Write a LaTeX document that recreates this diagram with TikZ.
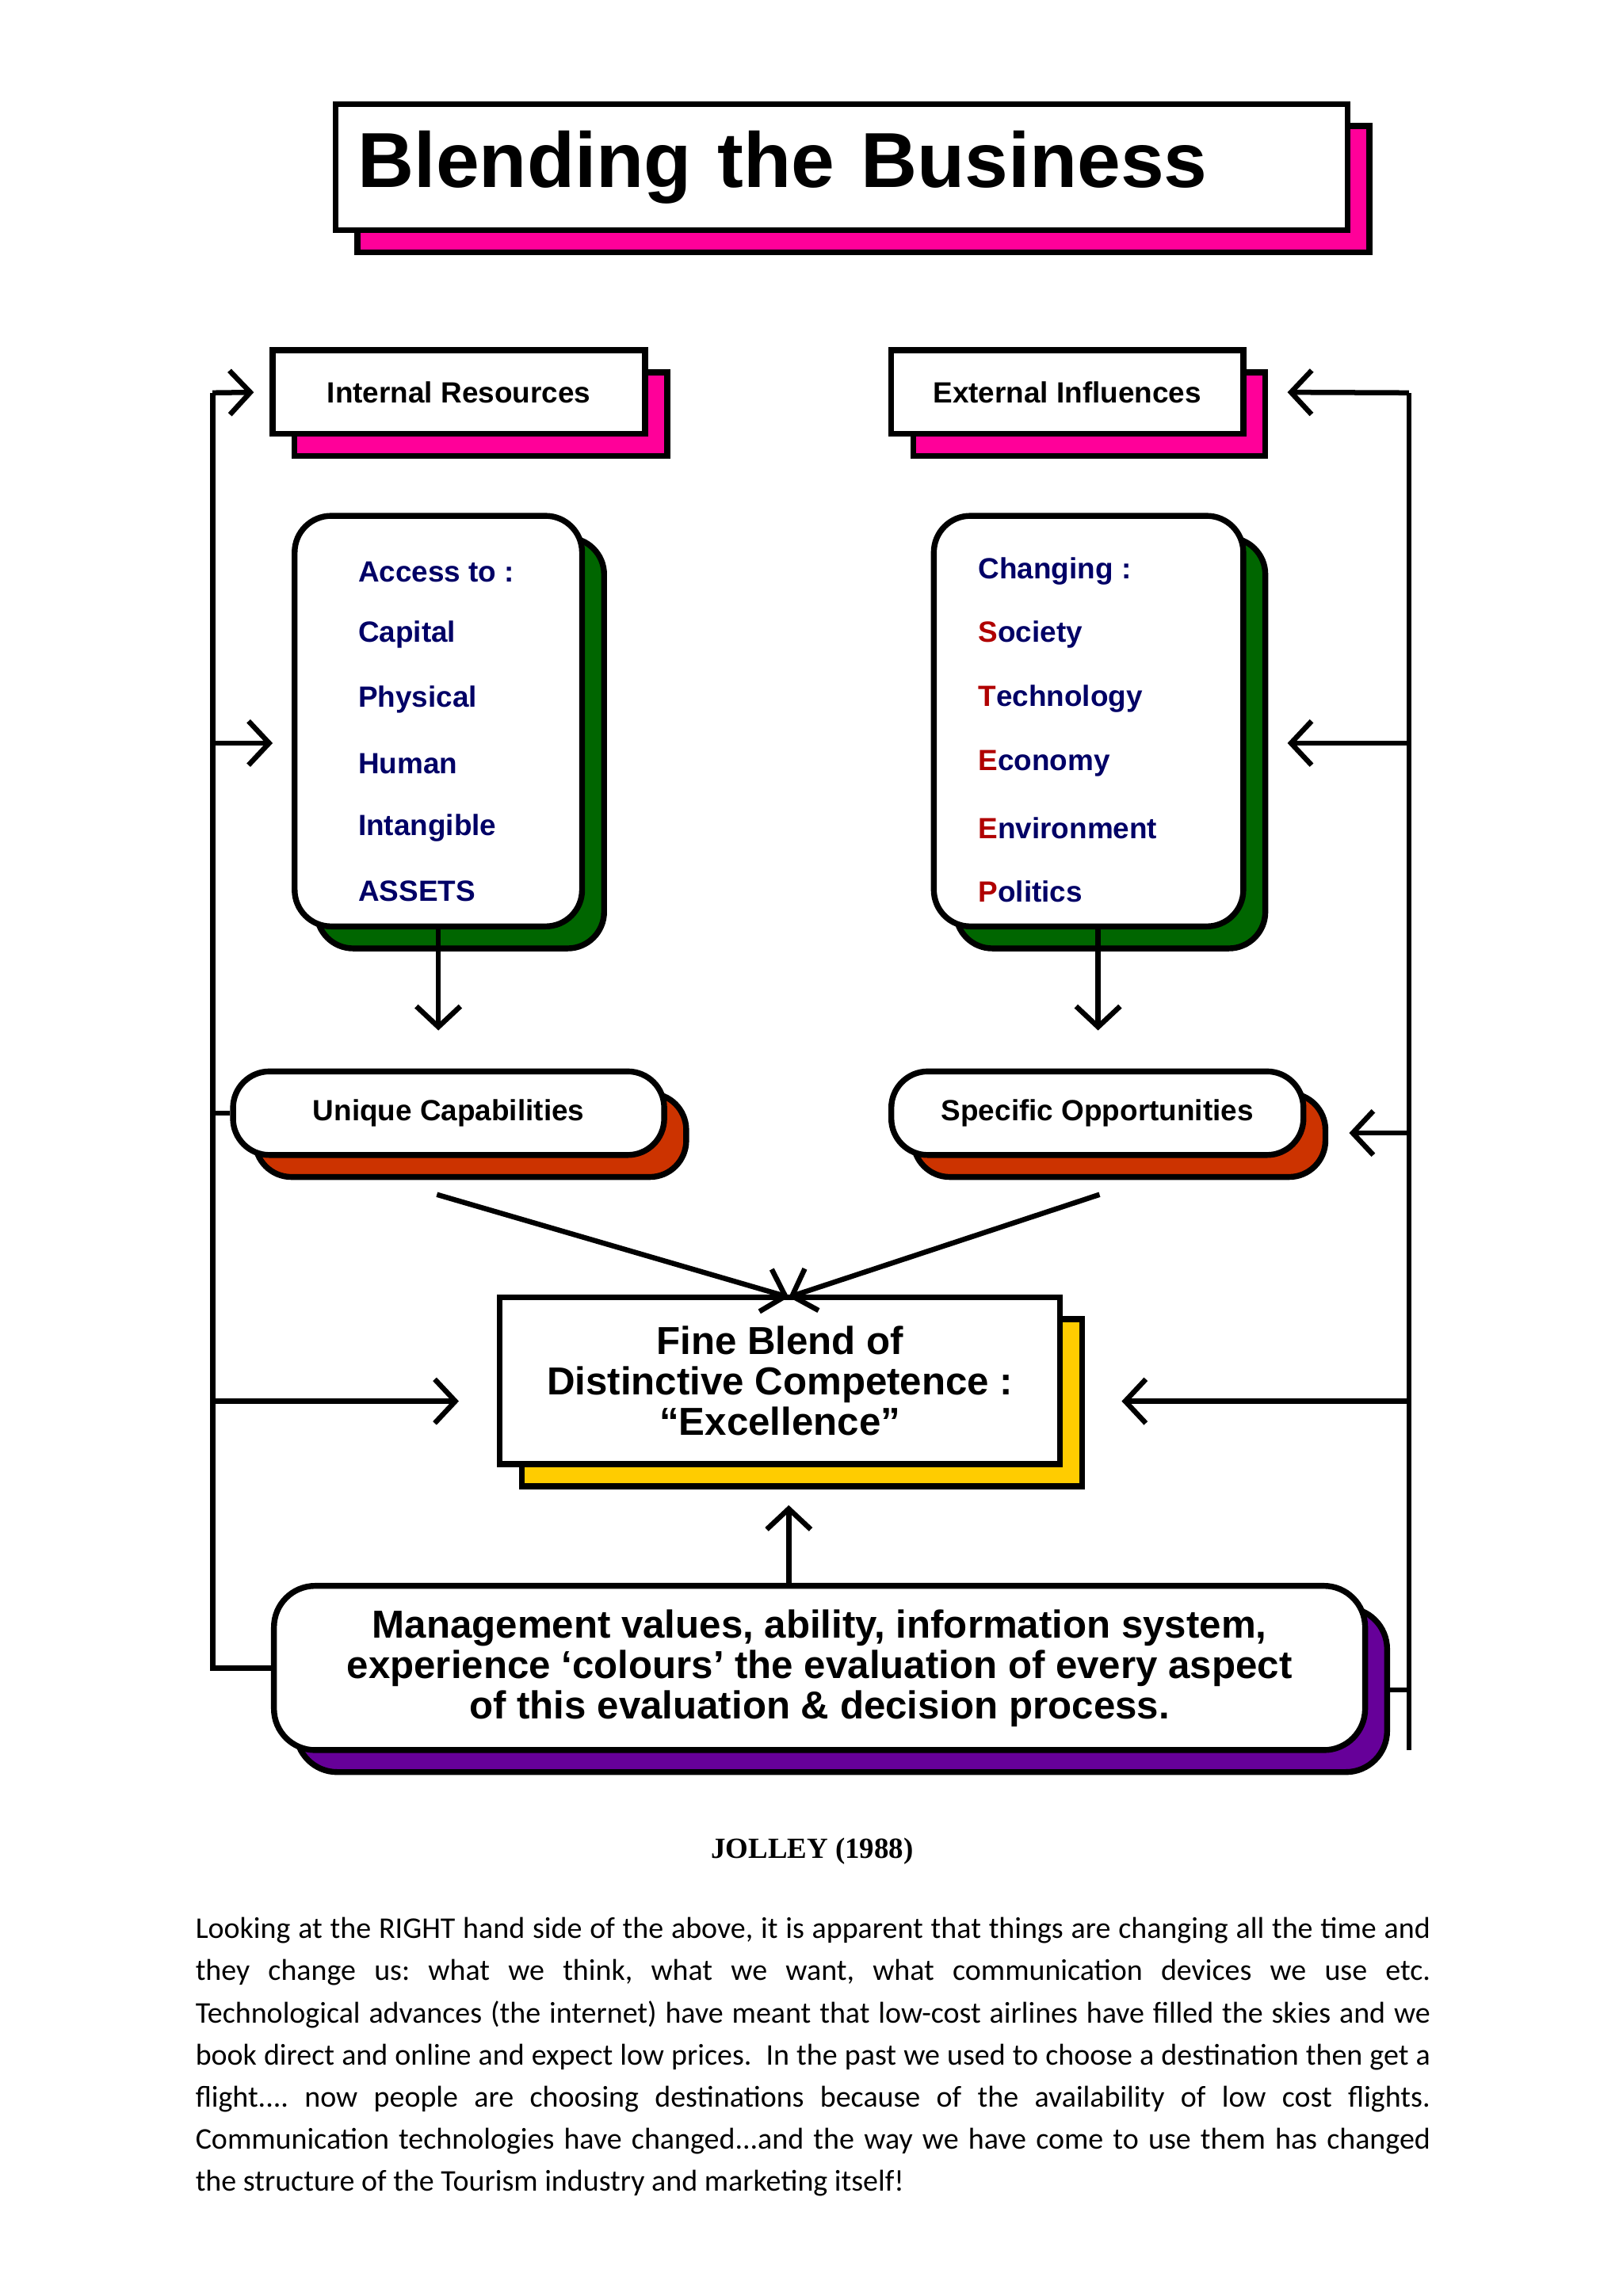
\documentclass[tikz,border=0pt]{standalone}
\usepackage{fontspec}
\setmainfont{Liberation Sans}
\newfontfamily\capfont{Liberation Serif}
\newfontfamily\bodyfont{Carlito}
\usetikzlibrary{arrows.meta,shadows}
\definecolor{pinkc}{HTML}{FF0099}
\definecolor{greenc}{HTML}{006600}
\definecolor{orangec}{HTML}{CC3300}
\definecolor{yellowc}{HTML}{FFCC00}
\definecolor{purplec}{HTML}{660099}
\definecolor{navyc}{HTML}{000066}
\definecolor{redc}{HTML}{B00000}
\frenchspacing
\begin{document}
\begin{tikzpicture}[x=0.0185cm,y=-0.0185cm,
  box/.style={draw, fill=white, line width=0.074cm, inner sep=0pt,
    minimum width=#1},
  sh/.style={general shadow={fill=#1, draw=black, line width=0.074cm,
    shadow xshift=0.2775cm, shadow yshift=-0.2775cm}},
  lbl/.style={font=\bfseries\fontsize{10.5}{12}\selectfont},
  item/.style={anchor=west, inner sep=0pt, text=navyc, font=\bfseries\fontsize{10.5}{12}\selectfont},
  big/.style={font=\bfseries\fontsize{14}{14.5}\selectfont, align=center},
  line/.style={line width=0.065cm},
  arr/.style={line width=0.065cm, -{Straight Barb[length=0.26cm,width=0.555cm,line width=0.065cm]}}
  ]
\useasboundingbox (0,0) rectangle (1107,1566.5);

% title and headings
\node[box=12.765cm, minimum height=1.591cm, sh=pinkc, text width=12.2cm, align=left,
  font=\bfseries\fontsize{28}{30}\selectfont] (title) at (574,114) {Blending the Business};
\node[box=4.699cm, minimum height=1.0545cm, sh=pinkc, lbl] (intres) at (313,267.5) {Internal Resources};
\node[box=4.44cm, minimum height=1.0545cm, sh=pinkc, lbl] (extinf) at (728,267.5) {External Influences};

% lists
\node[box=3.626cm, minimum height=5.18cm, rounded corners=0.46cm, sh=greenc] (assets) at (299,492) {};
\node[box=3.9035cm, minimum height=5.18cm, rounded corners=0.46cm, sh=greenc] (changing) at (742.5,492) {};
\node[item] (a1) at (244,390) {Access to :};
\node[item] (a2) at (244,433) {Capital};
\node[item] (a3) at (244,477) {Physical};
\node[item] (a4) at (244,521) {Human};
\node[item] (a5) at (244,565) {Intangible};
\node[item] (a6) at (244,608) {ASSETS};
\node[item] (c1) at (667,390) {Changing :};
\node[item] (c2) at (667,433) {\textcolor{redc}{S}ociety};
\node[item] (c3) at (667,477) {\textcolor{redc}{T}echnology};
\node[item] (c4) at (667,521) {\textcolor{redc}{E}conomy};
\node[item] (c5) at (667,565) {\textcolor{redc}{E}nvironment};
\node[item] (c6) at (667,608) {\textcolor{redc}{P}olitics};

% capabilities / opportunities
\node[box=5.439cm, minimum height=1.0545cm, rounded corners=0.46cm, sh=orangec, lbl] (unique) at (306,759.5) {Unique Capabilities};
\node[box=5.1985cm, minimum height=1.0545cm, rounded corners=0.46cm, sh=orangec, lbl] (specific) at (748.5,759.5) {Specific Opportunities};

% result and management
\node[box=7.067cm, minimum height=2.109cm, sh=yellowc, big] (fine) at (532,942)
  {Fine Blend of\\Distinctive Competence :\\``Excellence''};
\node[box=13.764cm, minimum height=2.072cm, rounded corners=0.52cm, sh=purplec, big] (mgmt) at (559,1138)
  {Management values, ability, information system,\\experience `colours' the evaluation of every aspect\\of this evaluation \& decision process.};

% connectors
\draw[arr, shorten >=0.48cm] (assets.south) -- (assets.south |- unique.north);
\coordinate (cd) at (749,632);
\draw[arr, shorten >=0.48cm] (cd) -- (cd |- specific.north);
\coordinate (cu) at (298,815);
\coordinate (cs) at (750,815);
\coordinate (fj) at (538,885);
\draw[arr] (cu) -- (fj);
\draw[arr] (cs) -- (fj);
\draw[arr, shorten >=0.48cm] (mgmt.north -| fj) -- (fine.south -| fj);

% left feedback
\coordinate (lb) at (145,1138);
\coordinate (lt) at (145,268);
\draw[line] (mgmt.west) -- (lb) -- (lt);
\draw[arr, shorten >=0.2cm] (lt) -- (intres.west);
\draw[arr, shorten >=0.24cm] (145,507) coordinate (la) -- (assets.west |- la);
\draw[line] (lt |- unique) -- (unique.west);
\coordinate (lf) at (145,956);
\draw[arr, shorten >=0.48cm] (lf) -- (fine.west |- lf);

% right feedback
\coordinate (rb) at (961,1194);
\coordinate (rt) at (961,268);
\draw[line] (rb) -- (rt);
\coordinate (rm) at (946,1153);
\draw[line] (rm) -- (rb |- rm);
\draw[arr, shorten >=0.52cm] (rt) -- (extinf.east);
\coordinate (rc) at (961,507);
\draw[arr, shorten >=0.52cm] (rc) -- (changing.east |- rc);
\coordinate (rs) at (961,773);
\draw[arr, shorten >=0.54cm] (rs) -- (specific.east |- rs);
\coordinate (rf) at (961,956);
\draw[arr, shorten >=0.74cm] (rf) -- (fine.east |- rf);

% caption and paragraph
\node[font=\capfont\bfseries\fontsize{10.5}{12}\selectfont] (cap) at (554,1263) {JOLLEY (1988)};
\node[anchor=north west, inner sep=0pt, text width=15.577cm, align=justify,
  font=\bodyfont\fontsize{10.8}{15.1}\selectfont] (para) at (133,1308)
 {Looking at the RIGHT hand side of the above, it is apparent that things are changing all the time and\linebreak
 they change us: what we think, what we want, what communication devices we use etc.\linebreak
 Technological advances (the internet) have meant that low-cost airlines have filled the skies and we\linebreak
 book direct and online and expect low prices.\ \ In the past we used to choose a destination then get a\linebreak
 flight.... now people are choosing destinations because of the availability of low cost flights.\linebreak
 Communication technologies have changed...and the way we have come to use them has changed\linebreak
 the structure of the Tourism industry and marketing itself!\par};
\end{tikzpicture}
\end{document}
